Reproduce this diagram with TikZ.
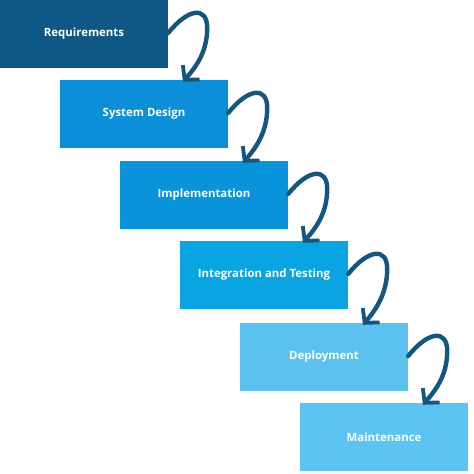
\documentclass[tikz,border=0pt]{standalone}
\usepackage{fontspec}
\setsansfont{Open Sans}
\usepackage{tikz}
\usetikzlibrary{arrows.meta,calc,positioning}
\definecolor{Navy}{HTML}{0F5784}
\definecolor{Azure}{HTML}{0A8FD8}
\definecolor{AzureB}{HTML}{0993DB}
\definecolor{Cyan}{HTML}{08A5E2}
\definecolor{Sky}{HTML}{5BC2EF}
\definecolor{SkyB}{HTML}{5CC4F2}
\definecolor{Ink}{HTML}{14567E}

\begin{document}
\begin{tikzpicture}[x=1pt,y=1pt,
  font=\sffamily\bfseries\fontsize{11.4}{13}\selectfont,
  stage/.style={rectangle,minimum width=168pt,minimum height=68pt,
    inner sep=0pt,text=white},
  flow/.style={Ink,line width=4.4pt,line cap=round,
    -{Straight Barb[length=10pt,width=22pt,line width=3.8pt]}}]
\useasboundingbox (0,0) rectangle (474,-474);

% Stages of the waterfall, stepping down to the right.
\node[stage,fill=Navy]   (req) at (84,-34)    {Requirements};
\node[stage,fill=Azure]  (sys) at (144,-114)  {System Design};
\node[stage,fill=AzureB] (imp) at (204,-195)  {Implementation};
\node[stage,fill=Cyan]   (int) at (264,-275)  {Integration and Testing};
\node[stage,fill=Sky]    (dep) at (324,-357)  {Deployment};
\node[stage,fill=SkyB]   (mnt) at (384,-437)  {Maintenance};

% Looping arrows from each stage to the next one.
\foreach \a/\b in {req/sys,sys/imp,imp/int,int/dep,dep/mnt} {
  \draw[flow] ([yshift=1pt]\a.east)
    .. controls +(20,25) and +(0,22) .. ([xshift=39pt,yshift=6pt]\a.east)
    .. controls +(0,-25) and +(12,14) .. ([xshift=39pt,yshift=-2pt]\b.north);
}
\end{tikzpicture}
\end{document}
